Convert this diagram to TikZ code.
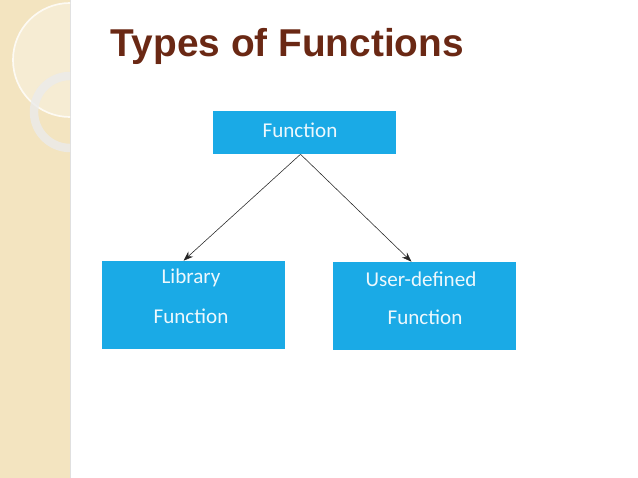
\documentclass[tikz,border=0pt]{standalone}
\usepackage{fontspec}
\setmainfont{Liberation Sans}
\newfontfamily\boxfont{Carlito}
\usetikzlibrary{arrows.meta,positioning,calc}
\definecolor{strip}{HTML}{F3E4C0}
\definecolor{titlebrown}{HTML}{6A2814}
\definecolor{boxblue}{HTML}{1AAAE6}

\begin{document}
\begin{tikzpicture}[
    x=0.025cm, y=-0.025cm,
    box/.style={rectangle, fill=boxblue, minimum width=183*0.025cm},
    boxtext/.style={font=\boxfont\fontsize{15}{18}\selectfont, text=white!92!boxblue},
    arrow/.style={-{Stealth[length=7pt,width=5pt]}, thin, black!85}
]
    \useasboundingbox (0,0) rectangle (638,478);
    % Side strip
    \fill[strip] (0,0) rectangle (70,478);
    \draw[black!12] (70,0) -- (70,478);
    \begin{scope}
        \clip (0,0) rectangle (70,478);
        \fill[white, opacity=0.3] (70,60) circle (57);
        \draw[white!80!strip, line width=1.2pt] (70,60) circle (57);
        \draw[black!8!white, opacity=0.8, line width=6pt] (70,112) circle (36);
    \end{scope}

    % Title
    \node[anchor=base west, font=\bfseries\fontsize{27.6}{33}\selectfont, text=titlebrown] (title) at (106,57) {Types of Functions};

    % Boxes
    \node[box, minimum height=43*0.025cm] (func) at (304.5,132.5) {};
    \node[box, minimum height=88*0.025cm] (lib) at (193.5,305) {};
    \node[box, minimum height=88*0.025cm] (user) at (424.5,306) {};

    % Box texts
    \node[boxtext] (funct) at (300,130) {Function};
    \node[boxtext] (libt1) at (191,278) {Library};
    \node[boxtext] (libt2) at (191,316) {Function};
    \node[boxtext] (usert1) at (421,279) {User-defined};
    \node[boxtext] (usert2) at (425,317) {Function};

    % Arrows
    \coordinate (fork) at ($(func.south)+(-4,0)$);
    \draw[arrow] (fork) -- ($(lib.north)+(-10,0)$);
    \draw[arrow] (fork) -- ($(user.north)+(-13,0)$);
\end{tikzpicture}
\end{document}
